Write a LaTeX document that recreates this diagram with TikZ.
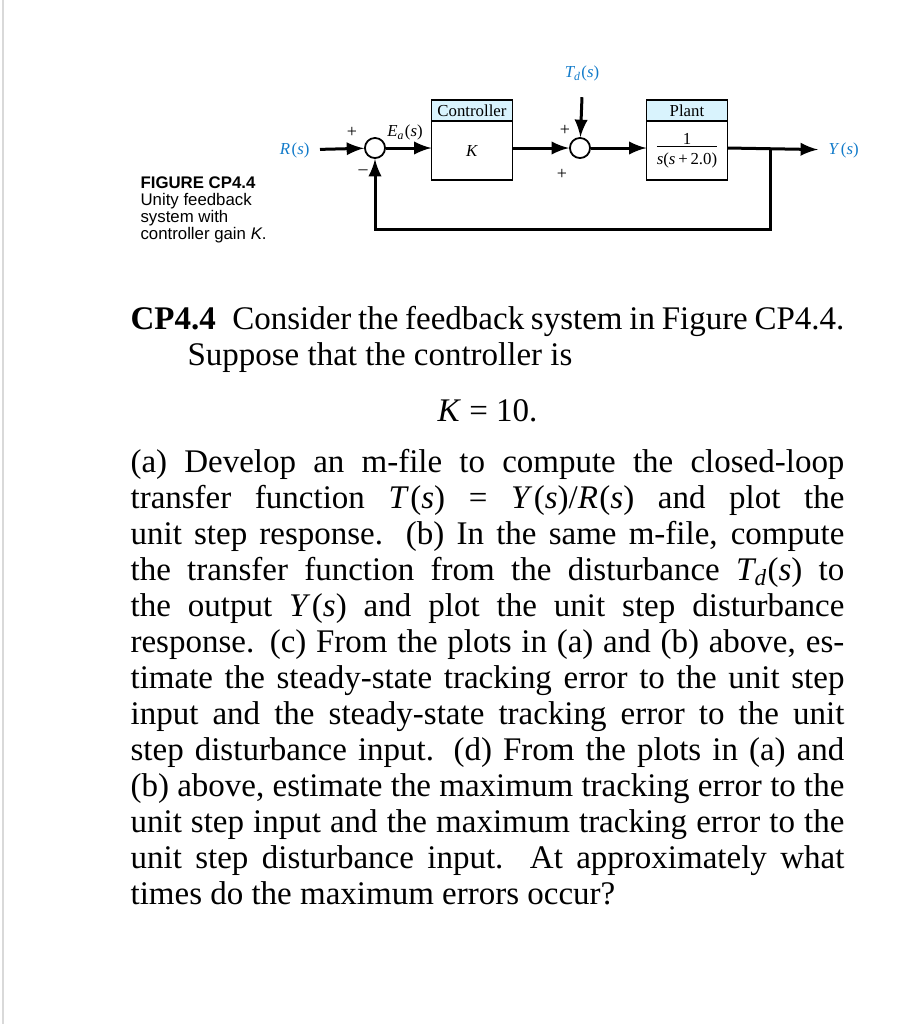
\documentclass[tikz,border=0pt]{standalone}
\usepackage{amsmath}
\usepackage{fontspec}
\setmainfont{Liberation Serif}
\newfontfamily\capfont{Liberation Sans}
\usetikzlibrary{positioning}
\colorlet{signal}{cyan!60!blue}
\colorlet{headfill}{cyan!15}
\newcommand{\blk}[1]{\fontsize{5.6}{6.5}\selectfont #1}
\newcommand{\sgn}[1]{\fontsize{6}{6}\selectfont #1}
\newcommand{\vr}[1]{\textit{#1}}
\newcommand{\fn}[2]{\vr{#1}\kern0.5pt(\vr{#2})}

\begin{document}
\begin{tikzpicture}[x=0.011717cm,y=-0.011717cm,
    any/.style={draw,line width=0.6pt,inner sep=0pt,outer sep=0pt,minimum width=27pt,align=center},
    header/.style={any,minimum height=7pt,fill=headfill,font=\blk},
    body/.style={any,minimum height=19.7pt,font=\blk},
    sum/.style={draw,circle,line width=0.6pt,minimum size=6.7pt,inner sep=0pt},
    sig/.style={text=signal,font=\blk},
    wire/.style={line width=1pt,-latex}
]
\useasboundingbox (0,0) rectangle (900,1024);
\draw[black!15,line width=1pt] (3,0) -- (3,1024);

% diagram
\node[sum] (sumA) at (375,148) {};
\node[sum] (sumB) at (580,148) {};
\node[header] (ctrlH) at (472,110.5) {Controller};
\node[body,below=0pt of ctrlH] (ctrl) {\vr{K}};
\node[header] (plantH) at (687,110.5) {Plant};
\node[body,below=0pt of plantH] (plant)
  {\begin{tabular}{@{}c@{}}1\\[-1.5pt]\hline\rule{0pt}{6pt}\vr{s}(\vr{s}\,+\,2.0)\end{tabular}};
\node[sig,anchor=east] (R) at (320,150) {\fn{R}{s}};
\node[sig,anchor=west] (Y) at (818,150) {\fn{Y}{s}};
\node[sig] (Td) at (582,73) {\vr{T\textsubscript{d}}(\vr{s})};
\coordinate (br) at (770,148);
\coordinate (fb) at (770,229);

\draw[wire] (R) -- (sumA);
\draw[wire] (sumA) -- (ctrl.west |- sumA);
\draw[wire] (ctrl.east |- sumB) -- (sumB);
\draw[wire] (sumB) -- (plant.west |- sumB);
\draw[wire] (plant.east |- br) -- (Y);
\draw[wire] (Td.south) ++(0,6) -- (sumB);
\draw[wire] (br) -- (fb) -| (sumA);

\node[font=\sgn] at (352,132) {+};
\node[font=\sgn] at (363,172) {\textendash};
\node[font=\blk] at (405,132) {\vr{E\textsubscript{a}}(\vr{s})};
\node[font=\sgn] at (565,130) {+};
\node[font=\sgn] at (562,174) {+};

% caption
\node[anchor=north west,align=left,font=\capfont\fontsize{5.6}{5.7}\selectfont] (cap) at (130,166)
  {\textbf{FIGURE CP4.4}\\Unity feedback\\system with\\controller gain \textit{K}.};

% problem text
\node[anchor=north west,text width=238pt,inner sep=0pt,align=justify,
      font=\fontsize{11}{12}\selectfont] (prob) at (130,306) {%
  \hangindent=19pt\hangafter=1\noindent
  \textbf{CP4.4}\enspace Consider the feedback system in Figure CP4.4.
  Suppose that the controller is\par
  \vspace{6.5pt}
  \noindent\hspace*{0pt}\hfill\vr{K} = 10.\hfill\hspace*{0pt}\par
  \vspace{5pt}
  \noindent (a) Develop an m-file to compute the closed-loop\linebreak
  transfer function \fn{T}{s} = \fn{Y}{s}/\fn{R}{s} and plot the\linebreak
  unit step response. (b) In the same m-file, compute\linebreak
  the transfer function from the disturbance \vr{T\textsubscript{d}}(\vr{s}) to\linebreak
  the output \fn{Y}{s} and plot the unit step disturbance\linebreak
  response. (c) From the plots in (a) and (b) above, es-\linebreak
  timate the steady-state tracking error to the unit step\linebreak
  input and the steady-state tracking error to the unit\linebreak
  step disturbance input. (d) From the plots in (a) and\linebreak
  (b) above, estimate the maximum tracking error to the\linebreak
  unit step input and the maximum tracking error to the\linebreak
  unit step disturbance input. At approximately what\linebreak
  times do the maximum errors occur?};
\end{tikzpicture}
\end{document}
